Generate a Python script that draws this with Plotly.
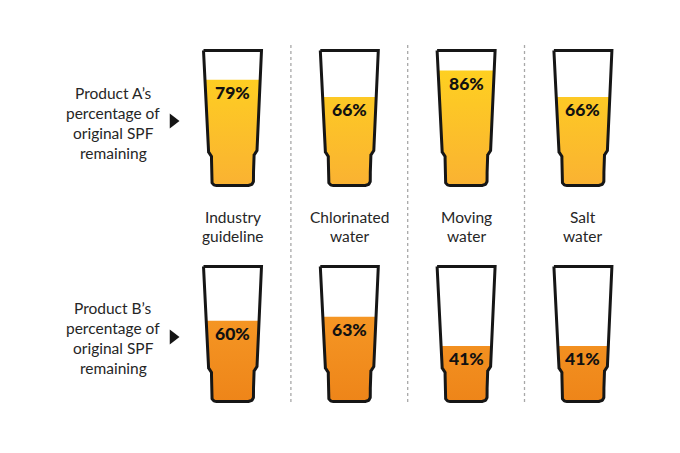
import numpy as np
import plotly.graph_objects as go

# ---------------- data ----------------
categories = ["Industry guideline", "Chlorinated water", "Moving water", "Salt water"]
category_lines = [["Industry", "guideline"], ["Chlorinated", "water"], ["Moving", "water"], ["Salt", "water"]]
product_a = [79, 66, 86, 66]
product_b = [60, 63, 41, 41]
row_a_label = ["Product A\u2019s", "percentage of", "original SPF", "remaining"]
row_b_label = ["Product B\u2019s", "percentage of", "original SPF", "remaining"]

# ---------------- layout / style ----------------
W, H_FIG = 680, 453
col_x0, col_dx = 232.5, 116.8
rows = [
    dict(values=product_a, top=50.5, labels=row_a_label, label_y=92.5, tri_y=121,
         c_top="#FFD51E", c_bot="#FAB232"),
    dict(values=product_b, top=266.5, labels=row_b_label, label_y=308, tri_y=337,
         c_top="#F9A02A", c_bot="#EE8519"),
]
GH = 135.0          # glass height (stroke centre)
HW_TOP = 29.0       # half width at top
HW_STEP = 24.5      # half width just above the step
HW_LOW = 21.0       # half width of narrow base
STEP_Y0, STEP_Y1 = 100.0, 106.0
R_BOT = 5.0
STROKE = 3.0
FONT = "Lato"


def half_width(dy):
    """half-width of the glass (stroke centre) at depth dy below its top"""
    dy = np.asarray(dy, dtype=float)
    hw = np.empty_like(dy)
    a = dy <= STEP_Y0
    hw[a] = HW_TOP - (HW_TOP - HW_STEP) * dy[a] / STEP_Y0
    b = (dy > STEP_Y0) & (dy <= STEP_Y1)
    t = (dy[b] - STEP_Y0) / (STEP_Y1 - STEP_Y0)
    hw[b] = HW_STEP - (HW_STEP - HW_LOW) * (1 - np.cos(np.pi * t)) / 2
    c = (dy > STEP_Y1) & (dy <= GH - R_BOT)
    hw[c] = HW_LOW
    d = dy > GH - R_BOT
    u = dy[d] - (GH - R_BOT)
    hw[d] = HW_LOW - R_BOT + np.sqrt(np.clip(R_BOT ** 2 - u ** 2, 0, None))
    return hw


def glass_outline(cx, top):
    dys = np.concatenate([np.linspace(0, STEP_Y0, 20), np.linspace(STEP_Y0, STEP_Y1, 12),
                          np.linspace(STEP_Y1, GH - R_BOT, 10), np.linspace(GH - R_BOT, GH, 14)])
    hw = half_width(dys)
    xs = list(cx - hw) + list((cx + hw)[::-1]) + [cx - hw[0]]
    ys = list(top + dys) + list((top + dys)[::-1]) + [top]
    return xs, ys


def glass_fill(cx, top, pct):
    inner_top = top + STROKE / 2
    inner_bot = top + GH - STROKE / 2
    level = inner_bot - pct / 100.0 * (inner_bot - inner_top)
    dys = np.linspace(level - top, GH, 160)
    hw = half_width(dys)
    xs = list(cx - hw) + list((cx + hw)[::-1])
    ys = list(top + dys) + list((top + dys)[::-1])
    return xs, ys, level


fig = go.Figure()

# dotted separators
for i in range(len(categories) - 1):
    xs = col_x0 + (i + 0.5) * col_dx
    fig.add_trace(go.Scatter(x=[xs, xs], y=[45, 405], mode="lines",
                             line=dict(color="#A8A8A8", width=1.3, dash="dot"),
                             hoverinfo="skip", showlegend=False))

annotations = []
for row in rows:
    for i, v in enumerate(row["values"]):
        cx = col_x0 + i * col_dx
        fx, fy, level = glass_fill(cx, row["top"], v)
        fig.add_trace(go.Scatter(
            x=fx, y=fy, mode="lines", fill="toself", line=dict(width=0),
            fillcolor=row["c_bot"],
            fillgradient=dict(type="vertical", start=row["top"], stop=row["top"] + GH,
                              colorscale=[[0, row["c_top"]], [1, row["c_bot"]]]),
            hoverinfo="skip", showlegend=False))
        ox, oy = glass_outline(cx, row["top"])
        fig.add_trace(go.Scatter(x=ox, y=oy, mode="lines",
                                 line=dict(color="#161616", width=STROKE),
                                 hoverinfo="skip", showlegend=False))
        annotations.append(dict(x=cx, y=level + 13, text=f"{v}%", showarrow=False,
                                xref="x", yref="y",
                                font=dict(family=FONT, size=17.5, color="#111111", weight=900)))
    # row label
    for j, line in enumerate(row["labels"]):
        annotations.append(dict(x=113, y=row["label_y"] + j * 20, text=line, showarrow=False,
                                xref="x", yref="y",
                                font=dict(family=FONT, size=15.5, color="#262626")))
    fig.add_trace(go.Scatter(x=[173], y=[row["tri_y"]], mode="markers",
                             marker=dict(symbol="triangle-right", size=13, color="#151515"),
                             hoverinfo="skip", showlegend=False))

# category labels
for i, lines in enumerate(category_lines):
    cx = col_x0 + i * col_dx
    for j, line in enumerate(lines):
        annotations.append(dict(x=cx, y=216.5 + j * 19, text=line, showarrow=False,
                                xref="x", yref="y",
                                font=dict(family=FONT, size=15.5, color="#262626")))

fig.update_layout(
    width=W, height=H_FIG,
    margin=dict(l=0, r=0, t=0, b=0),
    paper_bgcolor="white", plot_bgcolor="white",
    xaxis=dict(range=[0, W], visible=False, fixedrange=True),
    yaxis=dict(range=[H_FIG, 0], visible=False, fixedrange=True),
    annotations=annotations,
    showlegend=False,
)

fig.write_html("out.html", config={"displayModeBar": False},
               post_script="document.body.style.margin='0';")
